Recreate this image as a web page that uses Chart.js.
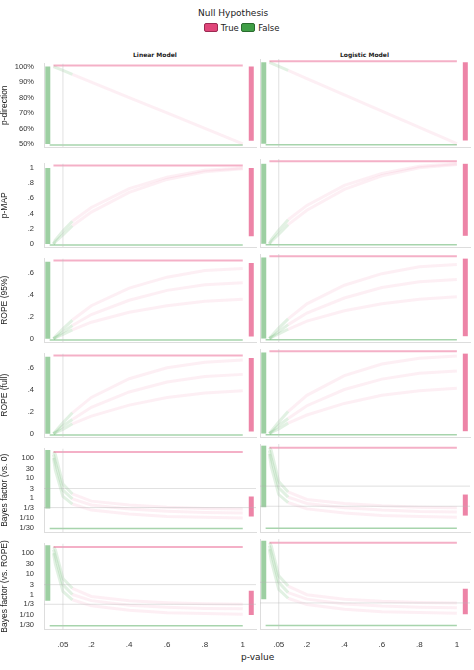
<!DOCTYPE html>
<html><head><meta charset="utf-8">
<script src="https://cdn.jsdelivr.net/npm/chart.js@4/dist/chart.umd.min.js"></script>
<style>
body{margin:0;width:474px;height:670px;position:relative;background:#fff;font-family:"DejaVu Sans",sans-serif;overflow:hidden}
.c{position:absolute}
.t{position:absolute;font-size:9px;color:#222;white-space:nowrap}
.hd{position:absolute;font-size:6px;font-weight:bold;color:#222}
.sw{display:inline-block;width:12px;height:7px;vertical-align:-1px;border-radius:2px}
</style></head><body>
<div class="t" style="left:198px;top:8px">Null Hypothesis</div>
<div class="t" style="left:204px;top:23px;font-size:8.5px"><span class="sw" style="background:#e0467a;border:1px solid #9b2a52"></span> True <span class="sw" style="background:#3f9e46;border:1px solid #2a6b2e"></span> False</div>
<div class="hd" style="left:133px;top:51px">Linear Model</div>
<div class="hd" style="left:340px;top:51px">Logistic Model</div>
<div class="t" style="left:241px;top:652px;font-size:9px">p-value</div>
<script>
const pValues = [0, 0.01, 0.05, 0.1, 0.2, 0.4, 0.6, 0.8, 1];
const xTicks = [0.05, 0.2, 0.4, 0.6, 0.8, 1];
const xTickLabels = [".05", ".2", ".4", ".6", ".8", "1"];

const pDirection = [100, 99.5, 97.5, 95, 90, 80, 70, 60, 50];
const pMapHigh = [0, 0.05, 0.17, 0.3, 0.48, 0.73, 0.88, 0.97, 1];
const pMapLow = [0, 0.03, 0.12, 0.24, 0.42, 0.68, 0.85, 0.95, 0.99];
const rope95High = [0, 0.02, 0.09, 0.17, 0.3, 0.46, 0.56, 0.62, 0.64];
const rope95Mid = [0, 0.01, 0.06, 0.12, 0.22, 0.35, 0.44, 0.49, 0.51];
const rope95Low = [0, 0.01, 0.04, 0.08, 0.15, 0.24, 0.3, 0.34, 0.36];
const ropeFullHigh = [0, 0.02, 0.1, 0.19, 0.33, 0.5, 0.6, 0.65, 0.67];
const ropeFullMid = [0, 0.01, 0.07, 0.13, 0.24, 0.38, 0.47, 0.52, 0.54];
const ropeFullLow = [0, 0.01, 0.04, 0.09, 0.16, 0.26, 0.33, 0.37, 0.39];
const bf0High = [200, 150, 5, 1.6, 0.7, 0.45, 0.35, 0.3, 0.28];
const bf0Mid = [150, 60, 2.5, 0.9, 0.45, 0.28, 0.22, 0.19, 0.18];
const bf0Low = [100, 25, 1.2, 0.5, 0.25, 0.16, 0.12, 0.11, 0.1];
const bfRopeHigh = [200, 150, 6, 2, 0.8, 0.5, 0.4, 0.35, 0.33];
const bfRopeMid = [150, 70, 3, 1, 0.5, 0.3, 0.24, 0.21, 0.2];
const bfRopeLow = [100, 30, 1.4, 0.55, 0.28, 0.17, 0.13, 0.12, 0.11];
const bfTicks = [1/30, 1/10, 1/3, 1, 3, 10, 30, 100];
const bfTickLabels = ["1/30", "1/10", "1/3", "1", "3", "10", "30", "100"];

const rows = [
  { title: "p-direction", curves: [pDirection], min: 48, max: 102, ticks: [50,60,70,80,90,100], labels: ["50%","60%","70%","80%","90%","100%"], rugLo: 50, rugHi: 100, pinkLo: 52, pinkHi: 100, refs: [] },
  { title: "p-MAP", curves: [pMapHigh, pMapLow], min: -0.04, max: 1.06, ticks: [0,0.2,0.4,0.6,0.8,1], labels: ["0",".2",".4",".6",".8","1"], rugLo: 0, rugHi: 1, pinkLo: 0.1, pinkHi: 1, refs: [] },
  { title: "ROPE (95%)", curves: [rope95High, rope95Mid, rope95Low], min: -0.03, max: 0.73, ticks: [0,0.2,0.4,0.6], labels: ["0",".2",".4",".6"], rugLo: 0, rugHi: 0.7, pinkLo: 0.02, pinkHi: 0.69, refs: [] },
  { title: "ROPE (full)", curves: [ropeFullHigh, ropeFullMid, ropeFullLow], min: -0.03, max: 0.73, ticks: [0,0.2,0.4,0.6], labels: ["0",".2",".4",".6"], rugLo: 0, rugHi: 0.7, pinkLo: 0.02, pinkHi: 0.69, refs: [] },
  { title: "Bayes factor (vs. 0)", curves: [bf0High, bf0Mid, bf0Low], min: 1/50, max: 300, ticks: bfTicks, labels: bfTickLabels, log: true, rugLo: 0.3, rugHi: 250, pinkLo: 0.12, pinkHi: 1.2, refs: [3, 1/3] },
  { title: "Bayes factor (vs. ROPE)", curves: [bfRopeHigh, bfRopeMid, bfRopeLow], min: 1/50, max: 300, ticks: bfTicks, labels: bfTickLabels, log: true, rugLo: 0.5, rugHi: 250, pinkLo: 0.1, pinkHi: 1.5, refs: [3, 1/3] },
];
const rowTops = [57, 157, 252, 347, 442, 537];
const PINK = "rgba(230,80,130,";
const GREEN = "rgba(60,160,70,";

const lineSet = (data, color, width) => ({ type: "line", data, borderColor: color, borderWidth: width, pointRadius: 0, showLine: true, fill: false });

function makeChart(row, r, col) {
  const last = r === rows.length - 1;
  const left = col === 0 ? 0 : 256;
  const width = col === 0 ? 257 : 218;
  const height = last ? 116 : 98;
  const cv = document.createElement("canvas");
  const box = document.createElement("div");
  box.className = "c";
  box.style.cssText = `left:${left}px;top:${rowTops[r]}px;width:${width}px;height:${height}px`;
  box.appendChild(cv);
  document.body.appendChild(box);

  const datasets = [];
  datasets.push(lineSet(row.refs.flatMap((v) => [{ x: -0.05, y: v }, { x: 1.07, y: v }, { x: NaN, y: NaN }]), "rgba(180,180,180,0.7)", 0.6));
  datasets.push(lineSet([{ x: 0.05, y: row.min }, { x: 0.05, y: row.max }], "rgba(190,190,190,0.8)", 0.6));
  row.curves.forEach((curve) => {
    const pts = pValues.map((p, i) => ({ x: p, y: curve[i] }));
    const ds = lineSet(pts, PINK + "0.1)", 3);
    ds.segment = { borderColor: (ctx) => ctx.p0.parsed.x < 0.1 ? GREEN + "0.15)" : PINK + "0.09)" };
    datasets.push(ds);
  });
  datasets.push(lineSet([{ x: -0.03, y: row.rugLo }, { x: -0.03, y: row.rugHi }], GREEN + "0.5)", 5));
  datasets.push(lineSet([{ x: 1.045, y: row.pinkLo }, { x: 1.045, y: row.pinkHi }], PINK + "0.7)", 5));
  const top = row.log ? row.max / 1.5 : row.max - (row.max - row.min) * 0.025;
  const bot = row.log ? row.min * 1.5 : row.min + (row.max - row.min) * 0.025;
  datasets.push(lineSet([{ x: 0, y: top }, { x: 1, y: top }], PINK + "0.45)", 2));
  datasets.push(lineSet([{ x: -0.02, y: bot }, { x: 1, y: bot }], GREEN + "0.45)", 1.5));

  new Chart(cv, {
    type: "scatter",
    data: { datasets },
    options: {
      responsive: true, maintainAspectRatio: false, animation: false,
      layout: { padding: { top: 2, right: col === 1 ? 4 : 1, bottom: 0, left: 0 } },
      plugins: { legend: { display: false }, tooltip: { enabled: false } },
      scales: {
        x: {
          type: "linear", min: -0.05, max: 1.07,
          grid: { display: false }, border: { color: "#ddd" },
          afterBuildTicks: (s) => { s.ticks = xTicks.map((v) => ({ value: v })); },
          ticks: { display: last, color: "#333", font: { size: 8 }, maxRotation: 0, autoSkip: false, callback: (v) => xTickLabels[xTicks.indexOf(v)] ?? "" },
        },
        y: {
          type: row.log ? "logarithmic" : "linear", min: row.min, max: row.max,
          grid: { display: false }, border: { color: "#ddd" },
          afterBuildTicks: (s) => { s.ticks = row.ticks.map((v) => ({ value: v })); },
          afterFit: (s) => { s.width = col === 0 ? 44 : 4; },
          title: { display: col === 0, text: row.title, color: "#222", font: { size: 8.5 }, padding: 0 },
          ticks: { display: col === 0, color: "#333", font: { size: 7.5 }, padding: 2, autoSkip: false,
            callback: (v) => { const i = row.ticks.findIndex((t) => Math.abs(t - v) < 1e-9 * Math.max(1, t)); return i < 0 ? "" : row.labels[i]; } },
        },
      },
    },
  });
}

rows.forEach((row, r) => { makeChart(row, r, 0); makeChart(row, r, 1); });
</script>
</body></html>
